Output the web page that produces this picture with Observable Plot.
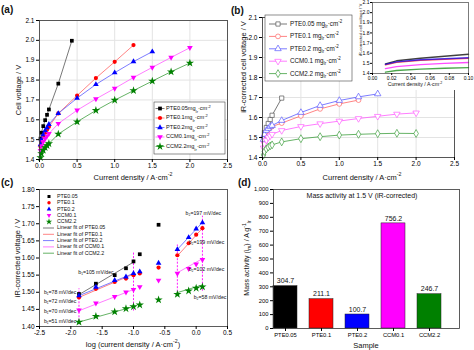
<!DOCTYPE html>
<html><head><meta charset="utf-8">
<script src="https://cdn.jsdelivr.net/npm/d3@7"></script>
<script src="https://cdn.jsdelivr.net/npm/@observablehq/plot@0.6"></script>
<style>
body{margin:0;background:#fff;}
#root{position:relative;width:474px;height:350px;overflow:hidden;background:#fff;font-family:"Liberation Sans",Arial,sans-serif;}
#root > svg{position:absolute;margin:0;}
</style></head><body><div id="root"></div>
<script>
// ---------- data ----------
const samples = ["PTE0.05","PTE0.1","PTE0.2","CCM0.1","CCM2.2"];
const colors = ["#000000","#ff0000","#0000ff","#ff00ff","#008000"];
const lineColors = ["#555555","#ff6464","#5a5aff","#ff5cff","#3f9f3f"];
const currentDensity = [0.0135,0.025,0.05,0.075,0.1,0.125,0.25,0.5,0.75,1.0,1.25,1.5,1.75,2.0];
const logCurrent = [-1.87,-1.6,-1.3,-1.12,-1.0,-0.9,-0.6,-0.3,-0.12,0.0,0.1];

// (a) cell voltage
const cellJ_PTE005 = [0.0135,0.025,0.05,0.075,0.1,0.125,0.25,0.43];
const cellPTE005 = [1.505,1.535,1.568,1.598,1.625,1.652,1.782,1.998];
const cellPTE01  = [1.465,1.49,1.515,1.535,1.55,1.565,1.632,1.722,1.81,1.892,1.976];
const cellPTE02  = [1.475,1.50,1.525,1.545,1.56,1.577,1.632,1.709,1.778,1.837,1.893,1.943];
const cellCCM01  = [1.445,1.468,1.49,1.505,1.518,1.53,1.581,1.648,1.705,1.758,1.813,1.864,1.914,1.963];
const cellCCM22  = [1.41,1.43,1.447,1.46,1.47,1.48,1.528,1.59,1.647,1.699,1.747,1.795,1.842,1.886];

// (b)/(c) iR-corrected voltage
const irPTE005 = [1.495,1.525,1.55,1.57,1.59,1.611,1.697];
const irPTE01  = [1.485,1.51,1.53,1.54,1.55,1.555,1.572,1.608,1.643,1.668,1.687];
const irPTE02  = [1.49,1.515,1.535,1.545,1.555,1.56,1.585,1.625,1.66,1.685,1.703,1.718];
const irCCM01  = [1.448,1.468,1.487,1.50,1.508,1.516,1.535,1.555,1.569,1.582,1.595,1.606,1.617,1.623];
const irCCM22  = [1.413,1.43,1.443,1.452,1.458,1.463,1.478,1.494,1.504,1.512,1.516,1.519,1.521,1.52];

// (c) Tafel fits
const fitLeftX = [-1.87,-1.0];
const fitLeftY = [[1.493,1.588],[1.485,1.553],[1.49,1.555],[1.446,1.508],[1.413,1.458]];
const fitRightX = [-0.3,0.1];
const fitRightY = [null,[1.606,1.687],[1.625,1.704],[1.557,1.598],[1.499,1.521]];
const fitRangeX = [-1.87,-1.0,-0.3,0.1];
const fitRangeLo = [1.405,1.445,1.49,1.503];
const fitRangeHi = [1.51,1.615,1.638,1.722];
const tafelText = ["b\u2081=105 mV/dec","b\u2081=78 mV/dec","b\u2081=72 mV/dec","b\u2081=70 mV/dec","b\u2081=51 mV/dec",
                   "b\u2082=197 mV/dec","b\u2082=199 mV/dec","b\u2082=102 mV/dec","b\u2082=58 mV/dec"];
const tafelX = [-1.88,-2.43,-2.43,-2.43,-2.43,-0.17,-0.12,-0.12,-0.04];
const tafelY = [1.559,1.499,1.473,1.445,1.416,1.731,1.647,1.566,1.484];

// (d) mass activity
const massActivity = [304.7,211.1,100.7,756.2,246.7];

// ---------- helpers ----------
const cellData = [cellPTE005,cellPTE01,cellPTE02,cellCCM01,cellCCM22];
const irData = [irPTE005,irPTE01,irPTE02,irCCM01,irCCM22];
const rows = (xs, ys) => ys.map((y,i)=>({x:xs[i], y}));
const triDown = {draw(context, size){
  const y = -Math.sqrt(size/(Math.sqrt(3)*3));
  context.moveTo(0,-y*2); context.lineTo(-Math.sqrt(3)*y, y); context.lineTo(Math.sqrt(3)*y, y); context.closePath();
}};
const symFilled = ["square","circle","triangle",triDown,"star"];
const symOpen = ["square","circle","triangle",triDown,"diamond"];
const FONT = "'Liberation Sans',Arial,sans-serif";
const root = document.getElementById("root");
function place(svg, left, top){ svg.style.left = left+"px"; svg.style.top = top+"px"; root.appendChild(svg); }
const d1 = d3.format(".1f"), d2 = d3.format(".2f");
const hy = f => v => f(v).replace("\u2212","-");

// ---------- (a) ----------
{
  const marks = [
    Plot.gridX([0,0.5,1,1.5,2,2.5],{stroke:"#e3e3e3",strokeOpacity:1}),
    Plot.gridY([1.4,1.5,1.6,1.7,1.8,1.9,2.0,2.1],{stroke:"#e3e3e3",strokeOpacity:1})
  ];
  cellData.forEach((vals,i)=>{
    const xs = i===0 ? cellJ_PTE005 : currentDensity;
    const r = rows(xs, vals);
    marks.push(Plot.line(r,{x:"x",y:"y",stroke:lineColors[i],strokeWidth:0.8}));
    marks.push(Plot.dot(r,{x:"x",y:"y",symbol:symFilled[i],fill:colors[i],r:i===4?2.6:2.1}));
  });
  marks.push(Plot.frame({stroke:"#333",strokeWidth:0.8}));
  marks.push(Plot.axisX([0,0.5,1,1.5,2,2.5],{tickFormat:d1,tickSize:3,tickPadding:1,label:null}));
  marks.push(Plot.axisY([1.4,1.5,1.6,1.7,1.8,1.9,2.0,2.1],{tickFormat:d1,tickSize:3,tickPadding:2,label:null}));
  const p = Plot.plot({width:237,height:175,marginLeft:39,marginRight:10,marginTop:20,marginBottom:16,
    x:{domain:[0,2.5]},y:{domain:[1.4,2.1]},
    style:{background:"transparent",fontFamily:FONT,fontSize:"6.5px",overflow:"visible"},marks});
  place(p,0,0);
}

// ---------- (b) ----------
{
  const marks = [
    Plot.gridX([0,0.5,1,1.5,2,2.5],{stroke:"#e3e3e3",strokeOpacity:1}),
    Plot.gridY([1.4,1.5,1.6,1.7,1.8,1.9,2.0,2.1],{stroke:"#e3e3e3",strokeOpacity:1})
  ];
  irData.forEach((vals,i)=>{
    const r = rows(currentDensity, vals);
    marks.push(Plot.line(r,{x:"x",y:"y",stroke:lineColors[i],strokeWidth:0.8}));
    marks.push(Plot.dot(r,{x:"x",y:"y",symbol:symOpen[i],fill:"white",stroke:lineColors[i],strokeWidth:0.7,r:2.4}));
  });
  marks.push(Plot.frame({stroke:"#333",strokeWidth:0.8}));
  marks.push(Plot.axisX([0,0.5,1,1.5,2,2.5],{tickFormat:d1,tickSize:3,tickPadding:1,label:null}));
  marks.push(Plot.axisY([1.4,1.5,1.6,1.7,1.8,1.9,2.0,2.1],{tickFormat:d1,tickSize:3,tickPadding:2,label:null}));
  const p = Plot.plot({width:237,height:175,marginLeft:25,marginRight:20,marginTop:17,marginBottom:18,
    x:{domain:[0,2.5]},y:{domain:[1.4,2.1]},
    style:{background:"transparent",fontFamily:FONT,fontSize:"6.5px",overflow:"visible"},marks});
  place(p,237,0);
}
// (b) inset
{
  const marks = [];
  [0,3,4,1,2].forEach(i=>{
    const r = rows(currentDensity, irData[i]).filter(d=>d.x<=0.1);
    marks.push(Plot.line(r,{x:"x",y:"y",stroke:colors[i],strokeOpacity:i===0?0.75:0.7,strokeWidth:1.4}));
  });
  marks.push(Plot.frame({stroke:"#444",strokeWidth:0.7}));
  marks.push(Plot.axisX([0,0.02,0.04,0.06,0.08,0.1],{tickFormat:d2,tickSize:2,tickPadding:1,label:null}));
  marks.push(Plot.axisY([1.4,1.5,1.6,1.7,1.8,1.9,2.0,2.1],{tickFormat:d1,tickSize:2,tickPadding:1,label:null}));
  const p = Plot.plot({width:122,height:90,marginLeft:20,marginRight:6,marginTop:2,marginBottom:17,
    x:{domain:[0,0.1]},y:{domain:[1.4,2.1]},
    style:{background:"white",fontFamily:FONT,fontSize:"5px",overflow:"visible"},marks});
  place(p,352,0);
}

// ---------- (c) ----------
{
  const marks = [];
  marks.push(Plot.ruleX(fitRangeX.map((x,i)=>({x,lo:fitRangeLo[i],hi:fitRangeHi[i]})),
    {x:"x",y1:"lo",y2:"hi",stroke:"#ff00ff",strokeWidth:0.9,strokeDasharray:"2,1.5"}));
  fitLeftY.forEach((ys,i)=>{
    marks.push(Plot.line(rows(fitLeftX, ys),{x:"x",y:"y",stroke:lineColors[i],strokeWidth:0.8}));
  });
  fitRightY.forEach((ys,i)=>{
    if (ys) marks.push(Plot.line(rows(fitRightX, ys),{x:"x",y:"y",stroke:lineColors[i],strokeWidth:0.8}));
  });
  irData.forEach((vals,i)=>{
    const r = rows(logCurrent, vals.slice(0, Math.min(vals.length, logCurrent.length)));
    marks.push(Plot.dot(r,{x:"x",y:"y",symbol:symFilled[i],fill:colors[i],r:i===4?2.6:2.1}));
  });
  marks.push(Plot.text(tafelText.map((t,i)=>({t,x:tafelX[i],y:tafelY[i]})),
    {x:"x",y:"y",text:"t",textAnchor:"start",fontSize:5.2,fill:"#111"}));
  marks.push(Plot.frame({stroke:"#333",strokeWidth:0.8}));
  marks.push(Plot.axisX([-2.5,-2,-1.5,-1,-0.5,0,0.5],{tickFormat:hy(d1),tickSize:3,tickPadding:1,label:null}));
  marks.push(Plot.axisY(d3.range(1.4,1.8001,0.05),{tickFormat:d2,tickSize:3,tickPadding:2,label:null}));
  const p = Plot.plot({width:237,height:175,marginLeft:39,marginRight:10,marginTop:14,marginBottom:24,
    x:{domain:[-2.5,0.5]},y:{domain:[1.4,1.8]},
    style:{background:"transparent",fontFamily:FONT,fontSize:"6.5px",overflow:"visible"},marks});
  place(p,0,175);
}

// ---------- (d) ----------
{
  const bars = samples.map((s,i)=>({s,v:massActivity[i],c:colors[i]}));
  const p = Plot.plot({width:237,height:175,marginLeft:36,marginRight:15,marginTop:14,marginBottom:22,
    x:{domain:samples,paddingInner:0.33,paddingOuter:0.18,align:0},
    y:{domain:[0,1000]},
    style:{background:"transparent",fontFamily:FONT,fontSize:"5.8px",overflow:"visible"},
    marks:[
      Plot.barY(bars,{x:"s",y:"v",fill:"c",stroke:"#222",strokeWidth:0.5}),
      Plot.text(bars,{x:"s",y:"v",text:d=>d.v.toFixed(1),dy:-5,fontSize:7,fill:"#111"}),
      Plot.frame({stroke:"#333",strokeWidth:0.8}),
      Plot.axisX({tickSize:3,tickPadding:1,label:null}),
      Plot.axisY(d3.range(0,1001,100),{tickSize:3,tickPadding:2,label:null})
    ]});
  place(p,237,175);
}

// ---------- overlay: titles, labels, legends ----------
const ov = d3.create("svg").attr("width",474).attr("height",350)
  .style("position","absolute").style("left","0px").style("top","0px")
  .style("pointer-events","none").style("font-family",FONT);
function label(x,y,txt,size,opts={}){
  const t = ov.append("text").attr("x",x).attr("y",y).attr("font-size",size)
    .attr("text-anchor",opts.anchor||"middle").attr("dominant-baseline","middle").attr("fill","#111");
  if (txt) t.text(txt);
  if (opts.bold) t.attr("font-weight","bold");
  if (opts.rotate) t.attr("transform",`rotate(-90,${x},${y})`);
  return t;
}
function parts(t, list){
  list.forEach(([s,kind])=>{
    const ts = t.append("tspan").text(s);
    if (kind==="sub") ts.attr("baseline-shift","sub").attr("font-size","70%");
    if (kind==="sup") ts.attr("baseline-shift","super").attr("font-size","70%");
  });
  return t;
}
label(1,10,"(a)",10,{bold:true,anchor:"start"});
label(231,11,"(b)",10,{bold:true,anchor:"start"});
label(1,183,"(c)",10,{bold:true,anchor:"start"});
label(238,183,"(d)",10,{bold:true,anchor:"start"});

parts(label(133,178,"",7.5),[["Current density / A\u00b7cm"],["-2","sup"]]);
parts(label(362,178,"",7.5),[["Current density / A\u00b7cm"],["-2","sup"]]);
label(19,90,"Cell voltage / V",7.5,{rotate:true});
label(244,67,"iR-corrected cell voltage / V",7.5,{rotate:true});
label(361,30,"iR-corrected cell voltage / V",4.3,{rotate:true});
parts(label(415,85,"",5.2),[["Current density / A\u00b7cm"],["-2","sup"]]);
label(18,258,"iR-corrected voltage / V",7.5,{rotate:true});
parts(label(133,345,"",7.5),[["log (current density / A\u00b7cm"],["-2","sup"],[")"]]);
parts(label(247,258,"",7,{rotate:true}),[["Mass activity (i"],["m","sub"],[") / A g"],["-1","sup"],["Ir","sub"]]);
label(366,346,"Sample",7.5);
label(362,196,"Mass activity at 1.5 V (iR-corrected)",7);

function drawSym(g, sym, x, y, fill, stroke, size){
  const type = sym===triDown ? triDown : {square:d3.symbolSquare,circle:d3.symbolCircle,triangle:d3.symbolTriangle,star:d3.symbolStar,diamond:d3.symbolDiamond}[sym];
  g.append("path").attr("d",d3.symbol(type,size)()).attr("transform",`translate(${x},${y})`)
    .attr("fill",fill).attr("stroke",stroke||"none").attr("stroke-width",0.7);
}
function unitLabel(x,y,prefix,size){
  const t = ov.append("text").attr("x",x).attr("y",y).attr("font-size",size).attr("dominant-baseline","middle").attr("fill","#111");
  parts(t,[[prefix+"mg"],["Ir","sub"],["\u00b7cm"],["-2","sup"]]);
}
// legend (a)
ov.append("rect").attr("x",154).attr("y",102).attr("width",71).attr("height",52).attr("fill","white").attr("stroke","#444").attr("stroke-width",0.6);
samples.forEach((s,i)=>{
  const y = 108.5 + i*9.5;
  ov.append("line").attr("x1",155.5).attr("x2",164.5).attr("y1",y).attr("y2",y).attr("stroke",lineColors[i]).attr("stroke-width",0.8);
  drawSym(ov, symFilled[i], 160, y, colors[i], null, i===4?20:14);
  unitLabel(166, y, s, 5.6);
});
// legend (b)
ov.append("rect").attr("x",265).attr("y",15).attr("width",87).attr("height",66).attr("fill","white").attr("stroke","#444").attr("stroke-width",0.6);
samples.forEach((s,i)=>{
  const y = 24 + i*12.4;
  ov.append("line").attr("x1",269).attr("x2",287).attr("y1",y).attr("y2",y).attr("stroke",lineColors[i]).attr("stroke-width",0.8);
  drawSym(ov, symOpen[i], 278, y, "white", lineColors[i], 18);
  unitLabel(290, y, s+" ", 6.3);
});
// legend (c)
samples.forEach((s,i)=>{
  const y = 196.5 + i*6.3;
  drawSym(ov, symFilled[i], 49, y, colors[i], null, i===4?13:9);
  label(57,y,s,5.3,{anchor:"start"});
});
samples.forEach((s,i)=>{
  const y = 228 + i*6.3;
  ov.append("line").attr("x1",43).attr("x2",54).attr("y1",y).attr("y2",y).attr("stroke",lineColors[i]).attr("stroke-width",0.8);
  label(57,y,"Linear fit of "+s,5.3,{anchor:"start"});
});
root.appendChild(ov.node());
</script></body></html>
